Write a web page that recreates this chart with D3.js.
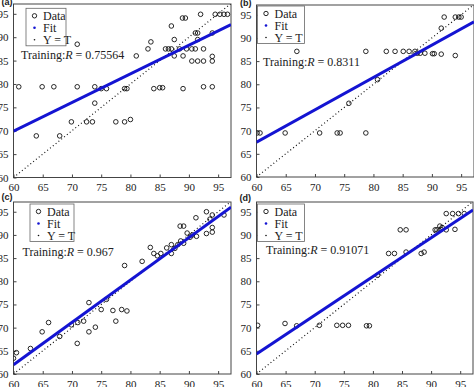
<!DOCTYPE html>
<html>
<head>
<meta charset="utf-8">
<script src="https://cdn.jsdelivr.net/npm/d3@7"></script>
<style>
  body { margin: 0; background: #fff; }
  svg { display: block; }
</style>
</head>
<body>
<script>
// target (T) and output (Y) values
var aT = [60.9, 64.9, 66.9, 70.9, 70.9, 63.9, 67.9, 69.9, 72.5, 73.5, 73.9, 73.9, 75.0, 75.9, 77.5, 79.0, 80.0, 79.0, 79.4,
  81.0, 83.0, 83.5, 84.0, 85.0, 85.5, 86.0, 86.5, 87.0, 87.0, 87.5, 87.5, 88.4, 88.9, 89.4, 89.0, 89.0, 89.6, 90.5, 90.5,
  91.1, 91.1, 91.5, 91.5, 91.5, 92.0, 92.5, 92.5, 92.5, 94.0, 94.0, 94.0, 94.0, 94.5, 95.3, 96.0, 96.6];
var aY = [79.4, 79.4, 79.4, 79.4, 88.5, 68.9, 68.9, 71.9, 71.9, 71.9, 75.9, 79.4, 79.0, 79.0, 71.9, 71.9, 72.4, 79.0, 79.0,
  86.0, 87.5, 89.0, 79.0, 79.2, 79.2, 87.5, 87.5, 87.5, 92.4, 89.5, 86.0, 87.5, 94.1, 94.1, 86.0, 79.0, 87.5, 84.9, 87.5,
  87.5, 90.9, 90.9, 89.5, 84.9, 94.9, 87.5, 84.9, 79.4, 90.9, 85.9, 84.9, 79.4, 94.9, 94.9, 94.9, 94.9];

var bT = [60.1, 60.6, 64.9, 66.9, 70.8, 73.8, 74.3, 75.8, 78.7, 78.7, 80.7, 82.2, 83.7, 85.1, 86.1, 87.1, 87.5, 88.0,
  88.8, 90.1, 90.4, 91.6, 91.6, 92.1, 94.0, 94.0, 94.6, 95.0];
var bY = [69.5, 69.5, 69.5, 87.1, 69.5, 69.5, 69.5, 75.9, 87.1, 69.5, 81.0, 87.1, 87.1, 87.1, 87.1, 87.1, 86.7, 86.7,
  86.7, 86.6, 86.6, 86.5, 92.1, 94.5, 94.5, 86.2, 94.5, 94.5];

var cT = [60.0, 60.5, 62.9, 64.9, 66.0, 67.9, 69.9, 70.9, 71.0, 72.0, 72.9, 72.9, 74.0, 75.0, 75.9, 77.0, 77.5, 78.5,
  79.4, 79.0, 82.0, 83.4, 84.0, 84.6, 85.2, 86.2, 87.0, 87.0, 87.6, 88.1, 88.6, 88.5, 89.1, 89.1, 89.7, 90.2, 90.6,
  91.2, 91.3, 93.0, 93.0, 93.6, 94.0, 94.0, 94.0, 96.0];
var cY = [63.4, 64.6, 65.5, 69.1, 71.1, 68.1, 70.6, 66.6, 71.1, 71.4, 69.1, 75.4, 70.1, 73.9, 76.1, 73.7, 71.4, 73.9,
  73.6, 83.4, 84.3, 87.3, 86.0, 85.5, 86.0, 87.2, 87.9, 86.0, 87.1, 87.9, 88.7, 91.9, 91.9, 88.2, 90.4, 89.5, 90.0,
  93.7, 89.7, 95.0, 90.3, 93.4, 94.3, 91.6, 90.6, 94.3];

var dT = [60.2, 64.9, 66.9, 70.8, 73.8, 74.8, 75.8, 78.9, 79.4, 80.8, 82.7, 83.7, 84.7, 85.7, 85.7, 88.3, 88.8, 90.7,
  91.0, 91.5, 91.7, 91.9, 92.6, 92.6, 93.7, 94.1, 94.7, 95.7];
var dY = [70.5, 70.9, 70.4, 70.5, 70.5, 70.5, 70.5, 70.4, 70.4, 81.3, 86.0, 86.0, 91.1, 91.1, 86.3, 86.0, 86.3, 91.1,
  91.1, 91.9, 91.2, 91.6, 91.1, 94.6, 94.6, 91.2, 94.6, 94.6];

// fitted line end points [T, Y]
var fitA = [[60, 69.9], [97.2, 92.7]];
var fitB = [[60, 67.5], [97.2, 93.5]];
var fitC = [[60, 62.0], [97.2, 96.0]];
var fitD = [[60, 64.3], [97.2, 95.4]];

var rLabels = ["0.75564", "0.8311", "0.967", "0.91071"];
var panelLabels = ["(a)", "(b)", "(c)", "(d)"];
var tickValues = [60, 65, 70, 75, 80, 85, 90, 95];
var legendItems = ["Data", "Fit", "Y = T"];

var W = 474, H = 387;
var font = "'Liberation Serif', 'Times New Roman', serif";
var axisCol = "#444";
var fitCol = "#1414d2";

var svg = d3.select("body").append("svg").attr("width", W).attr("height", H);

var panels = [
  {T: aT, Y: aY, fit: fitA, left: 13.5, top: 4, right: 231, bottom: 177.5},
  {T: bT, Y: bY, fit: fitB, left: 256.5, top: 5, right: 474, bottom: 177},
  {T: cT, Y: cY, fit: fitC, left: 13.5, top: 202, right: 231, bottom: 374},
  {T: dT, Y: dY, fit: fitD, left: 256.5, top: 202, right: 473, bottom: 374}
];

panels.forEach(function(p, i) {
  var x = d3.scaleLinear().domain([60, 97.2]).range([p.left, p.right]);
  var y = d3.scaleLinear().domain([60, 97.1]).range([p.bottom, p.top]);
  var g = svg.append("g");

  g.append("clipPath").attr("id", "clip" + i)
    .append("rect").attr("x", p.left).attr("y", p.top)
    .attr("width", p.right - p.left).attr("height", p.bottom - p.top);

  // frame
  g.append("rect").attr("x", p.left).attr("y", p.top)
    .attr("width", p.right - p.left).attr("height", p.bottom - p.top)
    .attr("fill", "none").attr("stroke", axisCol).attr("stroke-width", 1);

  // axes with inward ticks
  var xa = g.append("g").attr("transform", "translate(0," + p.bottom + ")")
    .call(d3.axisBottom(x).tickValues(tickValues).tickSize(-3).tickPadding(6));
  var ya = g.append("g").attr("transform", "translate(" + p.left + ",0)")
    .call(d3.axisLeft(y).tickValues(tickValues).tickSize(-3).tickPadding(5));
  [xa, ya].forEach(function(a) {
    a.select(".domain").remove();
    a.selectAll("line").attr("stroke", axisCol);
    a.selectAll("text").attr("font-family", font).attr("font-size", 11).attr("fill", "#222");
  });

  var plot = g.append("g").attr("clip-path", "url(#clip" + i + ")");

  // Y = T line
  plot.append("line")
    .attr("x1", x(60)).attr("y1", y(60)).attr("x2", x(97.2)).attr("y2", y(97.2))
    .attr("stroke", "#111").attr("stroke-width", 1.2).attr("stroke-dasharray", "1,2.6");

  // data points
  plot.selectAll("circle").data(d3.range(p.T.length)).enter().append("circle")
    .attr("cx", function(k) { return x(p.T[k]); })
    .attr("cy", function(k) { return y(p.Y[k]); })
    .attr("r", 2.3).attr("fill", "none").attr("stroke", "#111").attr("stroke-width", 0.9);

  // fit line
  plot.append("line")
    .attr("x1", x(p.fit[0][0])).attr("y1", y(p.fit[0][1]))
    .attr("x2", x(p.fit[1][0])).attr("y2", y(p.fit[1][1]))
    .attr("stroke", fitCol).attr("stroke-width", 3);

  // legend
  var lx = p.left + (i % 2 ? 1 : (i == 0 ? 12.5 : 16.5));
  var ly = p.top + (i == 0 ? 4.3 : (i == 1 ? 1 : 2));
  var lg = g.append("g").attr("transform", "translate(" + lx + "," + ly + ")");
  var lw = (i % 2) ? 47 : (i == 0 ? 40 : 44);
  lg.append("rect").attr("width", lw).attr("height", 37.5)
    .attr("fill", "#fff").attr("stroke", "#666").attr("stroke-width", 0.8);
  legendItems.forEach(function(t, k) {
    var cy = 7.5 + k * 12;
    if (k == 0) {
      lg.append("circle").attr("cx", 8.5).attr("cy", cy).attr("r", 2.2)
        .attr("fill", "none").attr("stroke", "#111").attr("stroke-width", 0.9);
    } else {
      lg.append("circle").attr("cx", 8.5).attr("cy", cy).attr("r", k == 1 ? 1.3 : 0.8)
        .attr("fill", k == 1 ? fitCol : "#111");
    }
    lg.append("text").attr("x", 17).attr("y", cy + 4)
      .attr("font-family", font).attr("font-size", 12).attr("fill", "#222").text(t);
  });

  // training R text
  var tx = [21, 263, 22.5, 266][i];
  var ty = [59, 66, 256, 254][i];
  var tt = g.append("text").attr("x", tx).attr("y", ty)
    .attr("font-family", font).attr("font-size", 12).attr("fill", "#222");
  tt.append("tspan").text("Training:");
  tt.append("tspan").attr("font-style", "italic").text("R");
  tt.append("tspan").text(" = " + rLabels[i]);

  // panel label
  g.append("text").attr("x", [1.5, 240, 1.5, 239.5][i]).attr("y", [5, 6, 200, 201][i])
    .attr("font-family", "'Liberation Sans', Arial, sans-serif").attr("font-size", 9)
    .attr("font-weight", "bold").attr("fill", "#222").text(panelLabels[i]);
});
</script>
</body>
</html>
